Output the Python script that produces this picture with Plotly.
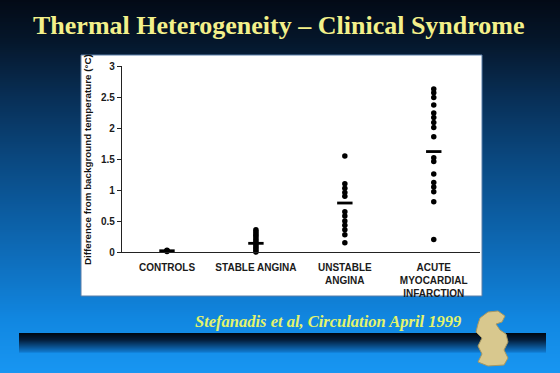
import plotly.graph_objects as go

# ---------------- data ----------------
categories = ["CONTROLS", "STABLE ANGINA", "UNSTABLE<br>ANGINA", "ACUTE<br>MYOCARDIAL<br>INFARCTION"]
controls = [0.01, 0.02, 0.03, 0.02]
stable_angina = [0.0, 0.03, 0.06, 0.09, 0.12, 0.15, 0.18, 0.21, 0.24, 0.27, 0.30, 0.33, 0.36]
unstable_angina = [1.55, 1.1, 1.03, 0.96, 0.9, 0.65, 0.58, 0.5, 0.43, 0.36, 0.28, 0.15]
acute_mi = [2.63, 2.57, 2.49, 2.37, 2.24, 2.17, 2.09, 2.01, 1.86, 1.52, 1.46,
            1.26, 1.12, 1.05, 0.97, 0.81, 0.2]
group_means = [0.02, 0.14, 0.79, 1.62]
y_ticks = [0, 0.5, 1, 1.5, 2, 2.5, 3]
y_tick_labels = ["0", "0.5", "1", "1.5", "2", "2.5", "3"]

groups = [controls, stable_angina, unstable_angina, acute_mi]

# ---------------- geometry helpers ----------------
W, H = 560, 373
PX0, PX1 = 122, 480   # plot area left/right in px
PY0, PY1 = 66, 252    # plot area top/bottom in px


def px(x):
    return (x - PX0) / (PX1 - PX0)


def py(y):
    return (PY1 - y) / (PY1 - PY0)


fig = go.Figure()

xs, ys = [], []
for i, g in enumerate(groups):
    xs += [i] * len(g)
    ys += g
fig.add_trace(go.Scatter(x=xs, y=ys, mode="markers",
                         marker=dict(size=5.5, color="black"),
                         cliponaxis=False, showlegend=False, hoverinfo="y"))
fig.add_trace(go.Scatter(x=list(range(len(categories))), y=group_means, mode="markers",
                         marker=dict(symbol="line-ew", size=11, color="black",
                                     line=dict(width=2.8, color="black")),
                         cliponaxis=False, showlegend=False, hoverinfo="y"))

# ---------------- background ----------------
stops = [(0, (3, 10, 22)), (40, (5, 22, 42)), (100, (8, 48, 88)), (160, (10, 72, 128)),
         (220, (12, 95, 165)), (280, (15, 118, 200)), (320, (17, 135, 225)), (373, (24, 150, 242))]


def col_at(y, st):
    for (y0, c0), (y1, c1) in zip(st[:-1], st[1:]):
        if y0 <= y <= y1:
            t = (y - y0) / (y1 - y0)
            return "rgb(%d,%d,%d)" % tuple(round(a + (b - a) * t) for a, b in zip(c0, c1))
    return "rgb(%d,%d,%d)" % st[-1][1]


shapes = []
step = 2
for y in range(0, H, step):
    shapes.append(dict(type="rect", xref="paper", yref="paper", layer="below",
                       x0=px(-2), x1=px(W + 2), y0=py(y + step + 0.5), y1=py(y),
                       fillcolor=col_at(y + step / 2, stops), line=dict(width=0)))

# bottom dark band
band_stops = [(333, (0, 6, 16)), (340, (3, 30, 60)), (352, (16, 120, 205))]
for y in range(333, 352):
    shapes.append(dict(type="rect", xref="paper", yref="paper", layer="below",
                       x0=px(19), x1=px(546), y0=py(y + 1.5), y1=py(y),
                       fillcolor=col_at(y + 0.5, band_stops), line=dict(width=0)))

# white chart panel
shapes.append(dict(type="rect", xref="paper", yref="paper", layer="below",
                   x0=px(81), x1=px(482), y0=py(296), y1=py(55),
                   fillcolor="white", line=dict(width=1, color="#5a7fa8")))

# logo (rough helmet silhouette)
logo_pts = [(480, 318), (488, 312), (498, 311), (505, 316), (502, 322), (496, 324),
            (500, 330), (506, 334), (508, 342), (504, 350), (508, 358), (504, 365),
            (488, 366), (478, 362), (482, 354), (478, 346), (482, 338), (476, 332), (478, 324)]
path = "M " + " L ".join("%f,%f" % (px(a), py(b)) for a, b in logo_pts) + " Z"
shapes.append(dict(type="path", xref="paper", yref="paper", layer="below", path=path,
                   fillcolor="#d8c88e", line=dict(width=1, color="#a89860")))

annotations = []
title = "Thermal Heterogeneity – Clinical Syndrome"
annotations.append(dict(text="<b>" + title + "</b>", xref="paper", yref="paper",
                        x=px(279), y=py(26), showarrow=False, xanchor="center", yanchor="middle",
                        font=dict(family="Liberation Serif", size=26, color="#f3f08a")))
annotations.append(dict(text="<b><i>Stefanadis et al, Circulation April 1999</i></b>",
                        xref="paper", yref="paper", x=px(328), y=py(321), showarrow=False,
                        xanchor="center", yanchor="middle",
                        font=dict(family="Liberation Serif", size=16.5, color="#e4f46c")))
annotations.append(dict(text="<b>Difference from background temperature (°C)</b>",
                        xref="paper", yref="paper", x=px(87), y=py(160), showarrow=False,
                        textangle=-90, xanchor="center", yanchor="middle",
                        font=dict(family="Arial", size=9.8, color="#111")))

fig.update_layout(
    width=W, height=H,
    margin=dict(l=PX0, r=W - PX1, t=PY0, b=H - PY1, pad=0),
    paper_bgcolor="rgb(10,60,110)", plot_bgcolor="rgba(0,0,0,0)",
    shapes=shapes, annotations=annotations, showlegend=False,
    xaxis=dict(range=[-0.506, 3.52], tickmode="array", tickvals=list(range(4)),
               ticktext=["<b>%s</b>" % c for c in categories], showgrid=False, zeroline=False,
               showline=True, linecolor="#222", linewidth=1.2, ticks="",
               ticklabelstandoff=6,
               tickfont=dict(family="Arial", size=10, color="#1a1a1a")),
    yaxis=dict(range=[0, 3], tickmode="array", tickvals=y_ticks,
               ticktext=["<b>%s</b>" % t for t in y_tick_labels], showgrid=False, zeroline=False,
               showline=True, linecolor="#222", linewidth=1.2, ticks="outside", ticklen=4,
               tickcolor="#222", tickfont=dict(family="Arial", size=10, color="#1a1a1a")),
)

fig.write_html("out.html", config={"displayModeBar": False},
               post_script="document.body.style.margin='0';document.body.style.padding='0';")
